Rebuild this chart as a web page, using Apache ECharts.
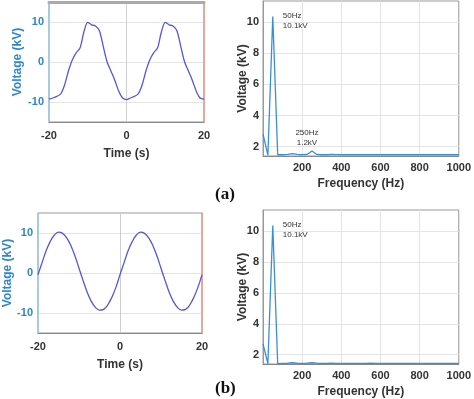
<!DOCTYPE html>
<html>
<head>
<meta charset="utf-8">
<script src="https://cdn.jsdelivr.net/npm/echarts@6/dist/echarts.min.js"></script>
<style>
  html, body { margin: 0; padding: 0; background: #fff; }
  #chart { width: 474px; height: 399px; }
</style>
</head>
<body>
<div id="chart"></div>
<script>
// time axis, seconds
var timeS = [-20,-19,-18,-17,-16,-15,-14,-13,-12,-11,-10,-9,-8,-7,-6,-5,-4,-3,-2,-1,0,
             1,2,3,4,5,6,7,8,9,10,11,12,13,14,15,16,17,18,19,20];
// (a) distorted waveform, kV
var voltA = [-9.3,-9.0,-8.6,-8.0,-5.8,-2.3,0.5,2.3,3.5,7.5,9.9,9.3,9.0,7.8,3.9,0.0,-2.3,-4.6,-7.3,-9.0,-9.4,
             -9.0,-8.6,-8.0,-5.8,-2.3,0.5,2.3,3.5,7.5,9.9,9.3,9.0,7.8,3.9,0.0,-2.3,-4.6,-7.3,-9.0,-9.3];
// (b) clean waveform, kV
var voltB = [-0.4,2.6,5.6,7.9,9.5,10.2,9.9,8.8,6.9,4.3,1.2,-1.9,-4.8,-7.1,-8.6,-9.3,-9.1,-8.0,-6.1,-3.6,-0.4,
             2.6,5.6,7.9,9.5,10.2,9.9,8.8,6.9,4.3,1.2,-1.9,-4.8,-7.1,-8.6,-9.3,-9.1,-8.0,-6.1,-3.6,-0.4];
// spectrum frequency bins, Hz
var freqHz = [0,25,50,75,100,125,150,175,200,225,250,275,300,325,350,375,400,425,450,475,500,
              525,550,575,600,625,650,675,700,725,750,775,800,825,850,875,900,925,950,975,1000];
var specA = [2.8,1.45,10.35,1.48,1.48,1.5,1.55,1.5,1.48,1.5,1.72,1.5,1.48,1.48,1.5,1.49,1.48,1.48,1.48,1.48,1.48,
             1.48,1.49,1.48,1.48,1.48,1.48,1.48,1.48,1.48,1.48,1.48,1.48,1.48,1.48,1.48,1.48,1.48,1.48,1.48,1.48];
var specB = [2.7,1.42,10.35,1.42,1.44,1.45,1.48,1.45,1.44,1.45,1.48,1.45,1.44,1.44,1.46,1.44,1.44,1.44,1.44,1.44,1.44,
             1.44,1.45,1.44,1.44,1.44,1.44,1.44,1.44,1.44,1.44,1.44,1.44,1.44,1.44,1.44,1.44,1.44,1.44,1.44,1.44];
var voltTicks = [-10, 0, 10];
var specTicks = [2, 4, 6, 8, 10];

function pairs(xs, ys) {
  return xs.map(function (x, i) { return [x, ys[i]]; });
}

var blue = "#2f86cc";
var gridLine = { show: true, lineStyle: { color: "#e4e4e4", width: 1 } };

function timeX(idx) {
  return {
    gridIndex: idx, type: "value", min: -20, max: 20, interval: 20,
    name: "Time (s)", nameLocation: "middle", nameGap: 26,
    nameTextStyle: { color: "#333", fontSize: 12, fontWeight: "bold", fontFamily: "Liberation Sans" },
    axisLine: { show: true, onZero: false, lineStyle: { color: "#888", width: 1 } },
    axisTick: { show: false },
    axisLabel: { color: "#333", fontSize: 11, fontWeight: "bold", margin: 8, fontFamily: "Liberation Sans" },
    splitLine: { show: true, lineStyle: { color: "#cfcfcf", width: 1 } }
  };
}
function timeY(idx, gap) {
  return {
    gridIndex: idx, type: "value", min: -15, max: 15,
    name: "Voltage (kV)", nameLocation: "middle", nameGap: gap, nameMoveOverlap: false,
    nameTextStyle: { color: blue, fontSize: 12, fontWeight: "bold", fontFamily: "Liberation Sans" },
    axisLine: { show: true, onZero: false, lineStyle: { color: "#9cc9ea", width: 1.5 } },
    axisTick: { show: false, customValues: voltTicks },
    axisLabel: { color: blue, fontSize: 11, fontWeight: "bold", margin: 5, customValues: voltTicks, fontFamily: "Liberation Sans" },
    splitLine: gridLine
  };
}
function rightSpine(idx) {
  return {
    gridIndex: idx, type: "value", min: -15, max: 15, position: "right",
    axisLine: { show: true, onZero: false, lineStyle: { color: "#f09a8a", width: 1.5 } },
    axisTick: { show: false }, axisLabel: { show: false }, splitLine: { show: false }
  };
}
function freqX(idx) {
  return {
    gridIndex: idx, type: "value", min: 0, max: 1000, interval: 200,
    name: "Frequency (Hz)", nameLocation: "middle", nameGap: 22,
    nameTextStyle: { color: "#333", fontSize: 12, fontWeight: "bold", fontFamily: "Liberation Sans" },
    axisLine: { show: true, onZero: false, lineStyle: { color: "#888" } },
    axisTick: { show: false },
    axisLabel: { color: "#333", fontSize: 11, fontWeight: "bold", margin: 6, fontFamily: "Liberation Sans",
      formatter: function (v) { return v === 0 ? "" : v; } },
    splitLine: gridLine
  };
}
function freqY(idx) {
  return {
    gridIndex: idx, type: "value", min: 1.4, max: 11.35,
    name: "Voltage (kV)", nameLocation: "middle", nameGap: 14, nameMoveOverlap: false,
    nameTextStyle: { color: "#333", fontSize: 12, fontWeight: "bold", fontFamily: "Liberation Sans" },
    axisLine: { show: true, onZero: false, lineStyle: { color: "#999" } },
    axisTick: { show: false, customValues: specTicks },
    axisLabel: { color: "#333", fontSize: 11, fontWeight: "bold", margin: 4, customValues: specTicks, fontFamily: "Liberation Sans" },
    splitLine: gridLine
  };
}
var noteLabel = { show: true, verticalAlign: "top", color: "#333", fontSize: 8, lineHeight: 10, fontFamily: "Liberation Sans" };

var chart = echarts.init(document.getElementById("chart"), null, { renderer: "canvas" });
chart.setOption({
  backgroundColor: "#fff",
  animation: false,
  grid: [
    { left: 49, top: 2, width: 155, height: 120, show: true, borderColor: "#999" },
    { left: 263, top: 1, width: 200, height: 155, show: true, borderColor: "#999" },
    { left: 38, top: 213, width: 164, height: 120, show: true, borderColor: "#999" },
    { left: 263, top: 210, width: 200, height: 155, show: true, borderColor: "#999" }
  ],
  xAxis: [
    timeX(0), freqX(1), timeX(2), freqX(3),
    { gridIndex: 0, type: "value", min: -20, max: 20, position: "top",
      axisLine: { show: true, onZero: false, lineStyle: { color: "#aaa", width: 3 } },
      axisTick: { show: false }, axisLabel: { show: false }, splitLine: { show: false } }
  ],
  yAxis: [
    timeY(0, 25), freqY(1), timeY(2, 24), freqY(3),
    rightSpine(0), rightSpine(2)
  ],
  series: [
    { type: "line", xAxisIndex: 0, yAxisIndex: 0, data: pairs(timeS, voltA), smooth: 0.3,
      showSymbol: false, lineStyle: { color: "#5555e0", width: 1.3 } },
    { type: "line", xAxisIndex: 1, yAxisIndex: 1, data: pairs(freqHz, specA),
      showSymbol: false, lineStyle: { color: "#3b8fd0", width: 1.3 },
      markPoint: {
        symbol: "circle", symbolSize: 0, silent: true, label: noteLabel,
        data: [
          { coord: [50, 10.35], label: { position: [10, -6], align: "left", formatter: "50Hz\n10.1kV" } },
          { coord: [250, 1.72], label: { position: [-5, -23], align: "center", formatter: "250Hz\n1.2kV" } }
        ]
      } },
    { type: "line", xAxisIndex: 2, yAxisIndex: 2, data: pairs(timeS, voltB), smooth: 0.4,
      showSymbol: false, lineStyle: { color: "#5555e0", width: 1.3 } },
    { type: "line", xAxisIndex: 3, yAxisIndex: 3, data: pairs(freqHz, specB),
      showSymbol: false, lineStyle: { color: "#3b8fd0", width: 1.3 },
      markPoint: {
        symbol: "circle", symbolSize: 0, silent: true, label: noteLabel,
        data: [
          { coord: [50, 10.35], label: { position: [10, -6], align: "left", formatter: "50Hz\n10.1kV" } }
        ]
      } }
  ],
  graphic: [
    { type: "text", left: 215, top: 186, style: { text: "(a)", font: "bold 17px 'Liberation Serif'", fill: "#111" } },
    { type: "text", left: 215, top: 380, style: { text: "(b)", font: "bold 17px 'Liberation Serif'", fill: "#111" } }
  ]
});
</script>
</body>
</html>
